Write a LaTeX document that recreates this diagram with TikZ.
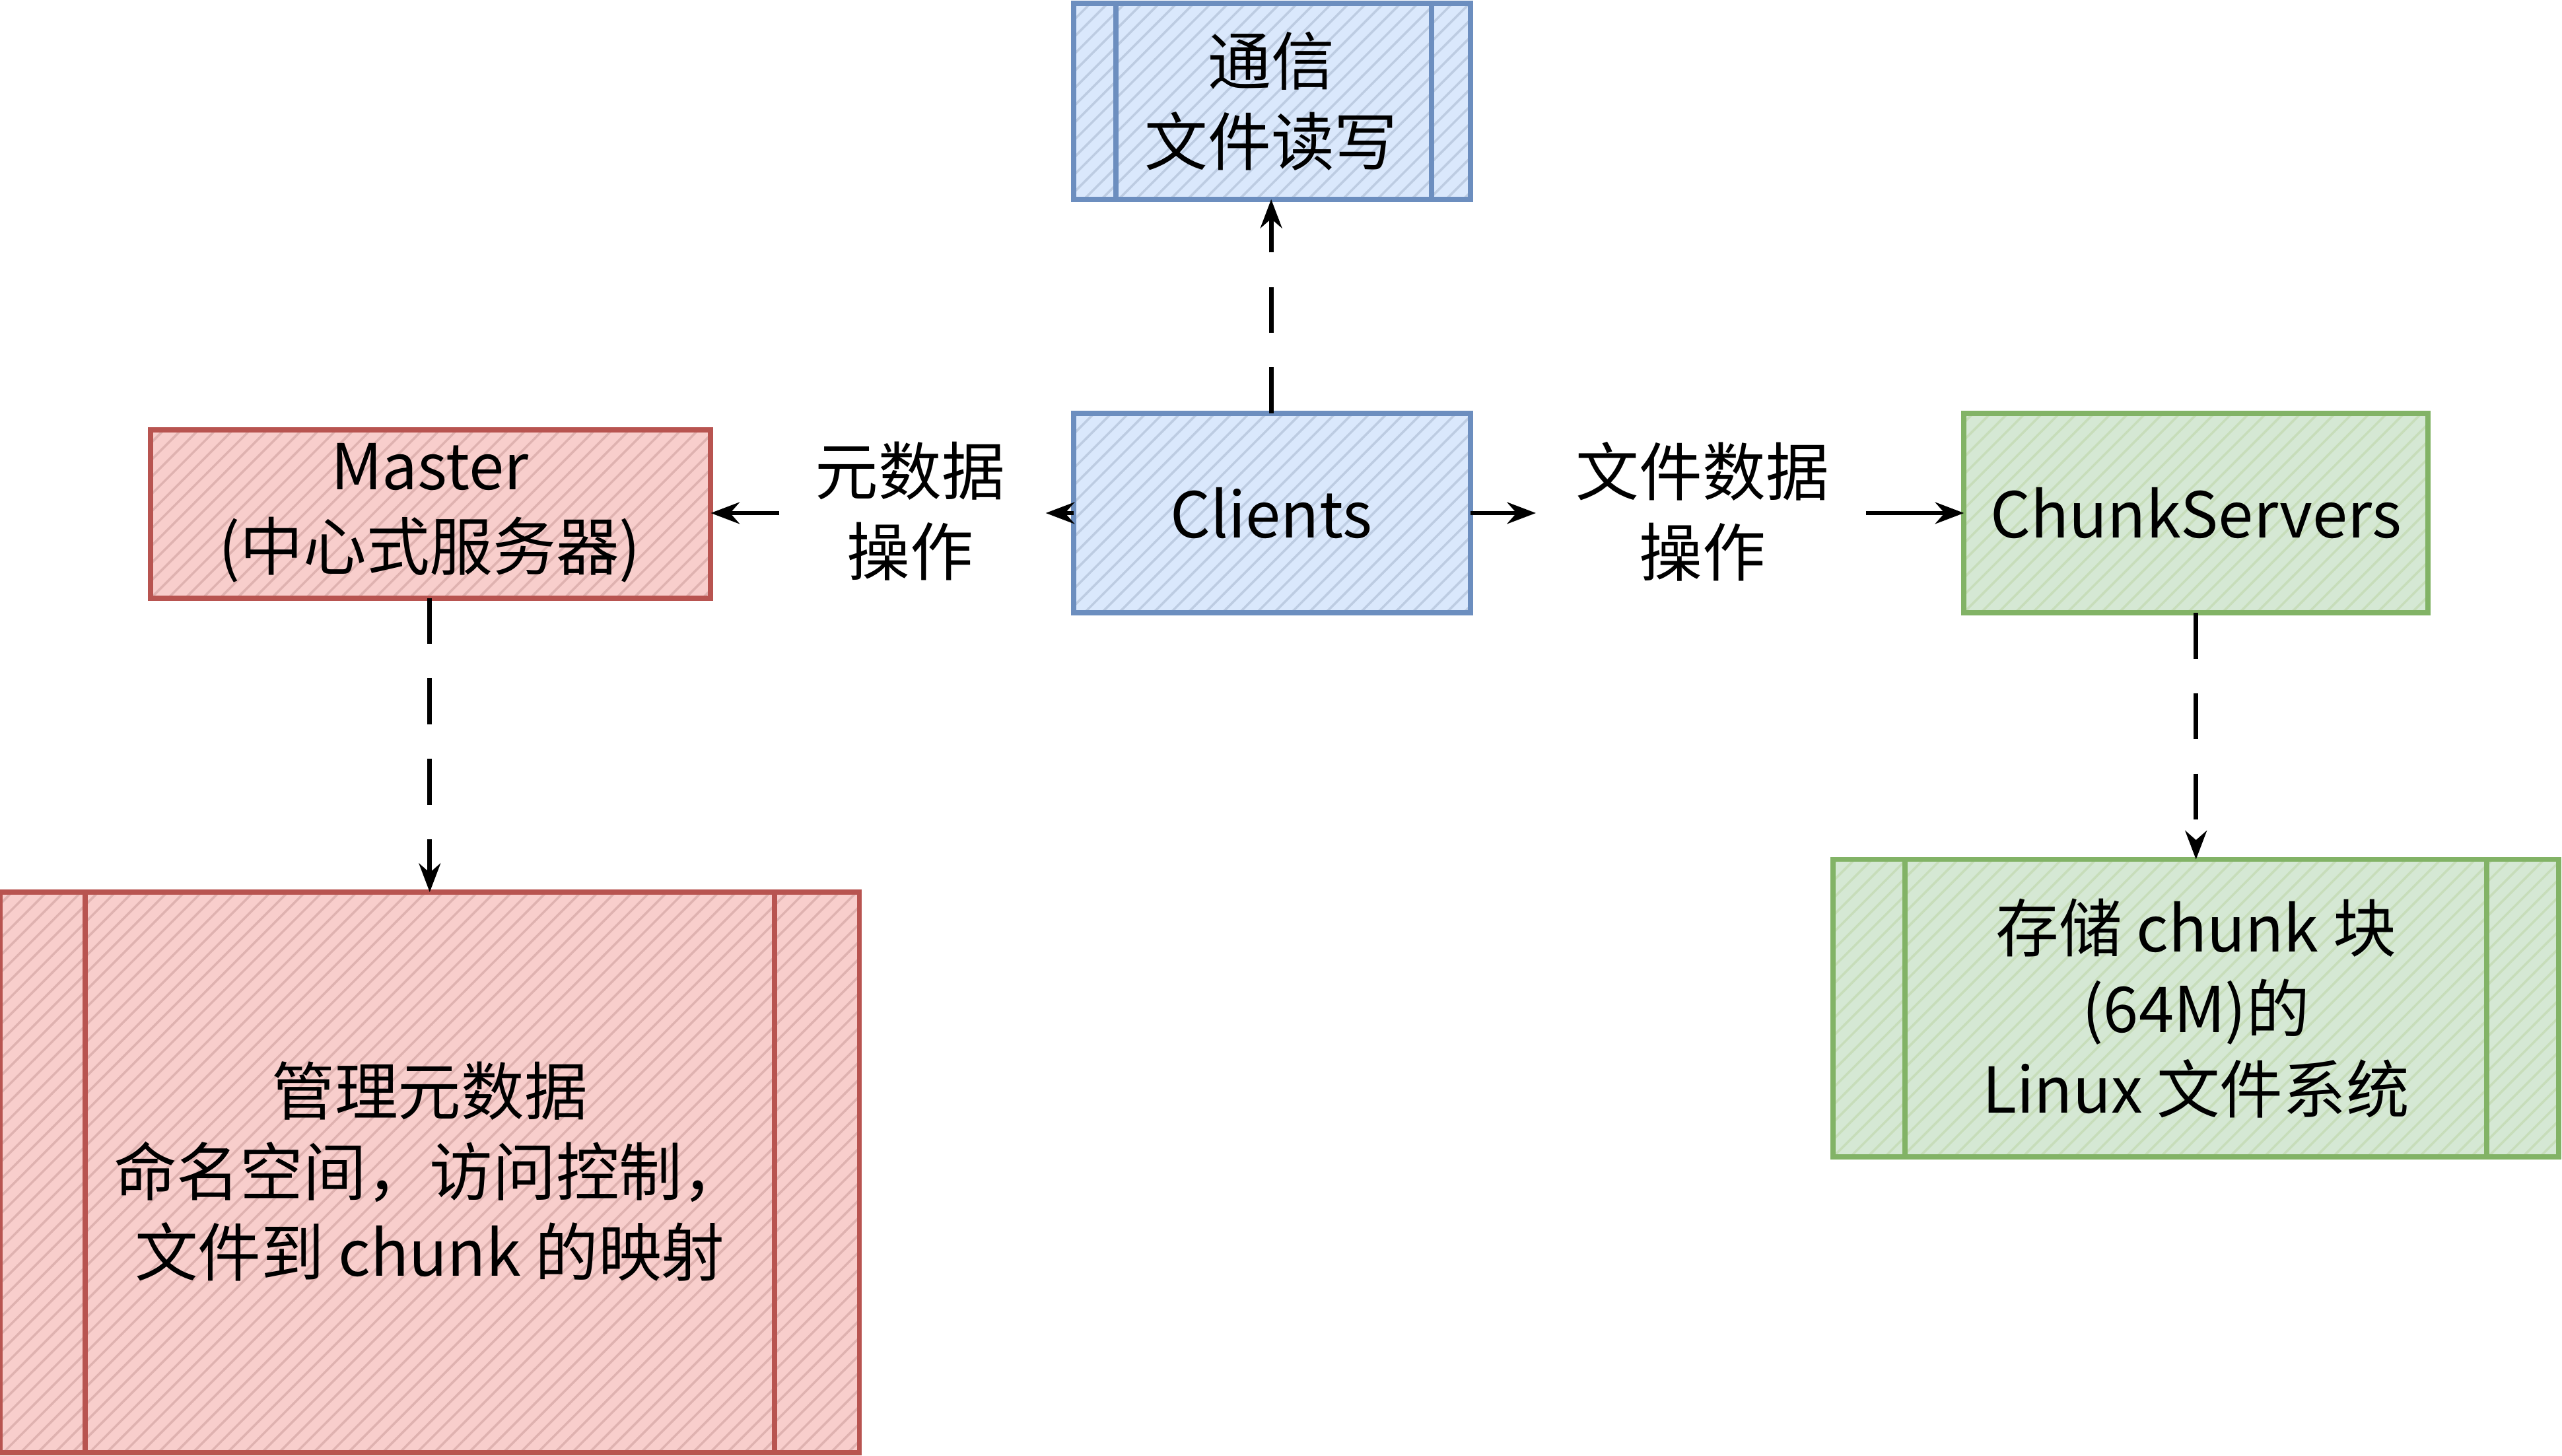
\documentclass[tikz,border=0pt]{standalone}
\usepackage{fontspec}
\setmainfont{Noto Sans CJK SC}
\usetikzlibrary{patterns,arrows.meta}
\definecolor{bf}{HTML}{DAE8FC}\definecolor{bs}{HTML}{6C8EBF}
\definecolor{rf}{HTML}{F8CECC}\definecolor{rs}{HTML}{B85450}
\definecolor{gf}{HTML}{D5E8D4}\definecolor{gs}{HTML}{82B366}
\begin{document}
\begin{tikzpicture}[x=0.01cm,y=-0.01cm,
 box/.style={draw=#1s,line width=0.9pt,pattern=north east lines,pattern color=#1s!45},
 bg/.style={fill=#1f},
 txt/.style={font=\fontsize{11pt}{14pt}\selectfont,align=center},
 arr/.style={-{Stealth[length=5pt]},line width=0.8pt},
 darr/.style={arr,dash pattern=on 8pt off 6pt}]
\useasboundingbox (0,0) rectangle (1568,891);
% top box
\fill[bf] (657,2) rectangle (900,122);
\draw[box=b] (657,2) rectangle (900,122);
\draw[bs,line width=0.9pt] (683,2) -- (683,122) (876,2) -- (876,122);
\node[txt] (top) at (778,62) {通信\\文件读写};
\coordinate (topS) at (778,122);
% clients
\fill[bf] (657,253) rectangle (900,375);
\draw[box=b] (657,253) rectangle (900,375);
\node[txt] (cl) at (778,314) {Clients};
\coordinate (clN) at (778,253);\coordinate (clW) at (657,314);\coordinate (clE) at (900,314);
% master
\fill[rf] (92,263) rectangle (435,366);
\draw[box=r] (92,263) rectangle (435,366);
\node[txt] (ma) at (263,314) {Master\\(中心式服务器)};
\coordinate (maE) at (435,314);\coordinate (maS) at (263,366);
% chunkservers
\fill[gf] (1202,253) rectangle (1486,375);
\draw[box=g] (1202,253) rectangle (1486,375);
\node[txt] (cs) at (1344,314) {ChunkServers};
\coordinate (csW) at (1202,314);\coordinate (csS) at (1344,375);
% bottom red
\fill[rf] (0,546) rectangle (526,889);
\draw[box=r] (0,546) rectangle (526,889);
\draw[rs,line width=0.9pt] (52,546) -- (52,889) (474,546) -- (474,889);
\node[txt] (mb) at (263,717) {管理元数据\\命名空间，访问控制，\\文件到 chunk 的映射};
\coordinate (mbN) at (263,546);
% bottom green
\fill[gf] (1122,526) rectangle (1566,708);
\draw[box=g] (1122,526) rectangle (1566,708);
\draw[gs,line width=0.9pt] (1166,526) -- (1166,708) (1522,526) -- (1522,708);
\node[txt] (gb) at (1344,617) {存储 chunk 块\\(64M)的\\Linux 文件系统};
\coordinate (gbN) at (1344,526);
% labels
\node[txt] (l1) at (557,313) {元数据\\操作};
\node[txt] (l2) at (1042,313) {文件数据\\操作};
\coordinate (l1W) at (477,314);\coordinate (l1E) at (640,314);
\coordinate (l2W) at (940,314);\coordinate (l2E) at (1142,314);
% connectors
\draw[arr] (clW) -- (l1E);
\draw[arr] (l1W) -- (maE);
\draw[arr] (clE) -- (l2W);
\draw[arr] (l2E) -- (csW);
\draw[darr] (clN) -- (topS);
\draw[darr] (maS) -- (mbN);
\draw[darr] (csS) -- (gbN);
\end{tikzpicture}
\end{document}
